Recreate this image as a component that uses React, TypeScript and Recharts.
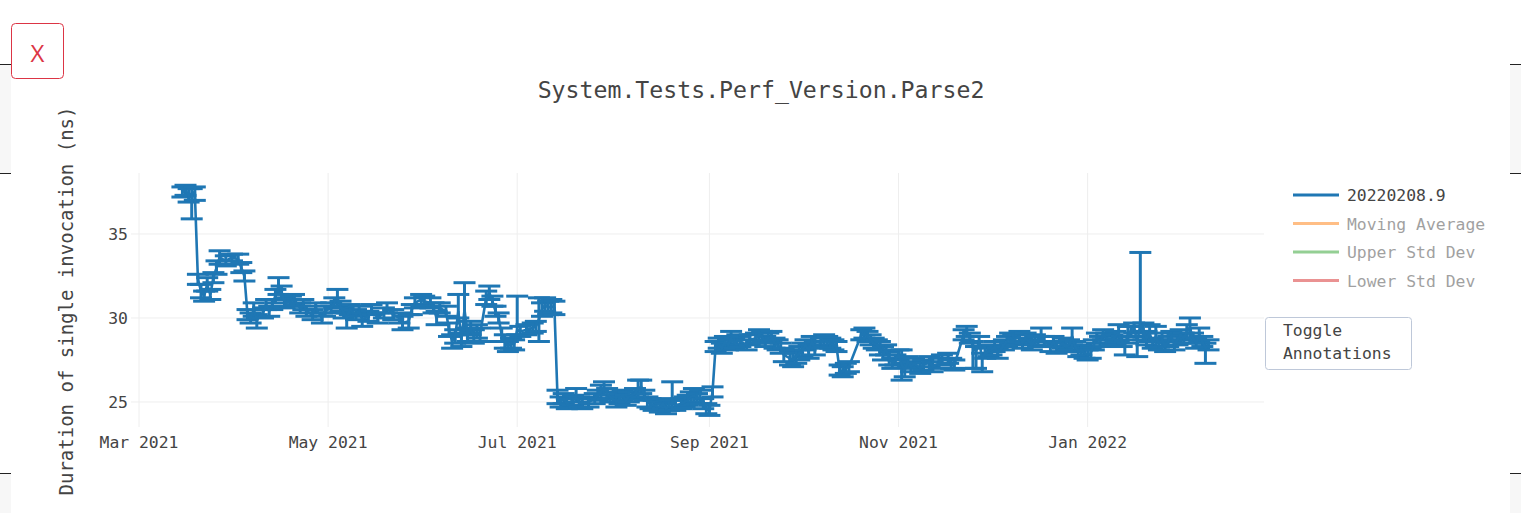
import { LineChart, Line, XAxis, YAxis, ReferenceLine, ErrorBar } from "recharts";

const MONO = "'DejaVu Sans Mono', monospace";
const TEXT = "#444";
const BLUE = "#1f77b4";
const GRID = "#eee";

const chartTitle = "System.Tests.Perf_Version.Parse2";
const yTitle = "Duration of single invocation (ns)";

const dates = [
  "2021-03-15", "2021-03-16", "2021-03-17", "2021-03-18", "2021-03-19", "2021-03-20", "2021-03-21", "2021-03-22", "2021-03-23", "2021-03-24", "2021-03-25", "2021-03-26", "2021-03-27", "2021-03-29", "2021-03-31",
  "2021-04-02", "2021-04-03", "2021-04-04", "2021-04-05", "2021-04-06", "2021-04-07", "2021-04-08", "2021-04-10", "2021-04-11", "2021-04-12", "2021-04-13", "2021-04-14", "2021-04-15", "2021-04-16", "2021-04-17", "2021-04-19", "2021-04-20", "2021-04-22", "2021-04-23", "2021-04-24", "2021-04-26", "2021-04-27", "2021-04-29", "2021-04-30",
  "2021-05-02", "2021-05-03", "2021-05-04", "2021-05-05", "2021-05-06", "2021-05-07", "2021-05-08", "2021-05-10", "2021-05-11", "2021-05-12", "2021-05-14", "2021-05-15", "2021-05-17", "2021-05-19", "2021-05-20", "2021-05-22", "2021-05-24", "2021-05-25", "2021-05-27", "2021-05-28", "2021-05-29", "2021-05-31",
  "2021-06-01", "2021-06-03", "2021-06-04", "2021-06-05", "2021-06-06", "2021-06-08", "2021-06-09", "2021-06-10", "2021-06-11", "2021-06-12", "2021-06-13", "2021-06-14", "2021-06-15", "2021-06-16", "2021-06-17", "2021-06-18", "2021-06-19", "2021-06-21", "2021-06-22", "2021-06-23", "2021-06-24", "2021-06-25", "2021-06-26", "2021-06-27", "2021-06-28", "2021-06-29", "2021-06-30",
  "2021-07-01", "2021-07-02", "2021-07-04", "2021-07-06", "2021-07-07", "2021-07-08", "2021-07-09", "2021-07-10", "2021-07-11", "2021-07-12", "2021-07-13", "2021-07-14", "2021-07-15", "2021-07-16", "2021-07-17", "2021-07-19", "2021-07-20", "2021-07-21", "2021-07-22", "2021-07-24", "2021-07-26", "2021-07-27", "2021-07-28", "2021-07-29", "2021-07-30", "2021-07-31",
  "2021-08-02", "2021-08-03", "2021-08-04", "2021-08-05", "2021-08-06", "2021-08-08", "2021-08-09", "2021-08-10", "2021-08-11", "2021-08-12", "2021-08-13", "2021-08-14", "2021-08-16", "2021-08-17", "2021-08-18", "2021-08-19", "2021-08-20", "2021-08-21", "2021-08-23", "2021-08-24", "2021-08-25", "2021-08-26", "2021-08-27", "2021-08-28", "2021-08-29", "2021-08-30", "2021-08-31",
  "2021-09-01", "2021-09-02", "2021-09-03", "2021-09-04", "2021-09-05", "2021-09-06", "2021-09-07", "2021-09-08", "2021-09-09", "2021-09-10", "2021-09-11", "2021-09-13", "2021-09-14", "2021-09-16", "2021-09-17", "2021-09-18", "2021-09-19", "2021-09-20", "2021-09-21", "2021-09-22", "2021-09-23", "2021-09-24", "2021-09-25", "2021-09-27", "2021-09-28", "2021-09-29", "2021-09-30",
  "2021-10-01", "2021-10-02", "2021-10-03", "2021-10-04", "2021-10-05", "2021-10-07", "2021-10-08", "2021-10-09", "2021-10-10", "2021-10-11", "2021-10-12", "2021-10-13", "2021-10-14", "2021-10-15", "2021-10-16", "2021-10-20", "2021-10-21", "2021-10-22", "2021-10-23", "2021-10-24", "2021-10-25", "2021-10-26", "2021-10-27", "2021-10-28", "2021-10-29", "2021-10-30", "2021-10-31",
  "2021-11-01", "2021-11-02", "2021-11-03", "2021-11-04", "2021-11-05", "2021-11-06", "2021-11-08", "2021-11-09", "2021-11-11", "2021-11-12", "2021-11-14", "2021-11-15", "2021-11-17", "2021-11-18", "2021-11-19", "2021-11-22", "2021-11-23", "2021-11-24", "2021-11-25", "2021-11-26", "2021-11-27", "2021-11-28", "2021-11-29", "2021-11-30",
  "2021-12-01", "2021-12-02", "2021-12-03", "2021-12-05", "2021-12-06", "2021-12-07", "2021-12-08", "2021-12-10", "2021-12-11", "2021-12-12", "2021-12-14", "2021-12-15", "2021-12-16", "2021-12-17", "2021-12-18", "2021-12-20", "2021-12-21", "2021-12-22", "2021-12-24", "2021-12-25", "2021-12-26", "2021-12-27", "2021-12-28", "2021-12-29", "2021-12-30", "2021-12-31",
  "2022-01-01", "2022-01-02", "2022-01-03", "2022-01-04", "2022-01-05", "2022-01-06", "2022-01-07", "2022-01-09", "2022-01-10", "2022-01-11", "2022-01-12", "2022-01-13", "2022-01-14", "2022-01-15", "2022-01-16", "2022-01-17", "2022-01-18", "2022-01-19", "2022-01-20", "2022-01-21", "2022-01-22", "2022-01-23", "2022-01-24", "2022-01-25", "2022-01-26", "2022-01-27", "2022-01-28", "2022-01-29", "2022-01-30", "2022-01-31",
  "2022-02-01", "2022-02-02", "2022-02-03", "2022-02-04", "2022-02-05", "2022-02-06", "2022-02-07", "2022-02-08", "2022-02-09",
];

// ns per invocation
const durations = [
  37.5, 37.6, 37.3, 37.4, 37.5, 32.3, 31.6, 31.3, 32.0, 31.4, 32.4, 33.0, 33.6, 33.4, 33.6,
  33.5, 33.0, 32.5, 30.2, 30.0, 30.5, 29.9, 30.3, 30.8, 30.4, 30.8, 31.3, 31.9, 31.5, 30.9, 31.0, 31.1, 30.6, 30.8, 30.4, 30.2, 30.6, 30.0, 30.4,
  30.6, 30.9, 31.2, 30.7, 30.3, 30.0, 30.5, 30.2, 30.4, 29.9, 30.1, 30.5, 30.0, 30.3, 30.6, 30.2, 30.0, 29.7, 29.8, 30.5, 30.9, 31.1,
  31.0, 30.9, 30.6, 30.0, 30.6, 30.4, 29.3, 28.6, 28.9, 30.4, 28.7, 30.5, 29.0, 29.4, 28.9, 29.2, 29.0, 31.2, 31.5, 31.0, 30.4, 30.0, 29.0, 28.6, 28.3, 28.5, 28.4,
  29.3, 29.2, 29.3, 29.4, 29.5, 29.9, 30.5, 30.8, 30.6, 30.7, 30.6, 25.3, 25.0, 25.2, 24.9, 25.1, 25.3, 25.0, 24.9, 25.0, 25.2, 25.4, 25.6, 25.8, 25.5, 25.3,
  25.0, 25.2, 25.4, 25.1, 25.3, 25.5, 25.8, 25.9, 25.4, 25.0, 24.9, 24.8, 24.7, 24.9, 24.6, 24.8, 25.0, 24.8, 24.9, 25.0, 25.1, 25.3, 25.4, 25.2, 25.3, 24.9, 24.6,
  24.5, 25.6, 28.3, 28.5, 28.2, 28.6, 28.4, 28.8, 28.5, 28.7, 28.6, 28.4, 28.7, 28.8, 29.0, 28.9, 28.6, 28.8, 28.9, 28.5, 28.4, 28.2, 27.8, 27.6, 27.5, 27.7, 27.9,
  28.1, 28.4, 28.0, 28.6, 28.2, 28.5, 28.7, 28.6, 28.5, 28.4, 28.3, 26.9, 26.8, 27.0, 27.1, 29.0, 29.1, 28.9, 28.7, 28.5, 28.4, 28.2, 27.9, 28.1, 27.6, 27.3, 27.5,
  27.8, 27.2, 26.9, 27.4, 27.1, 27.3, 27.0, 27.2, 27.4, 27.1, 27.3, 27.5, 27.6, 27.3, 27.2, 29.0, 29.2, 28.8, 28.3, 28.0, 28.6, 27.6, 27.9, 28.0,
  28.1, 28.3, 27.9, 28.4, 28.6, 28.8, 28.7, 28.9, 28.5, 28.8, 28.4, 28.7, 28.6, 29.0, 28.6, 28.3, 28.6, 28.2, 28.5, 28.3, 28.4, 28.9, 28.3, 28.0, 28.1, 27.9,
  27.8, 27.9, 28.4, 28.8, 28.6, 29.0, 28.8, 28.7, 28.9, 29.1, 28.6, 28.4, 29.0, 29.2, 29.4, 28.6, 29.6, 29.2, 28.8, 29.1, 28.5, 28.9, 28.4, 28.7, 28.3, 28.6, 28.9, 28.4, 28.7, 29.0,
  28.8, 29.2, 29.4, 28.8, 28.5, 29.0, 28.6, 28.2, 28.4,
];

// symmetric error, or [below, above]
const errors: (number | number[])[] = [
  0.3, 0.3, 0.4, [1.5, 0.3], [0.5, 0.3], 0.3, 0.4, 0.3, 0.4, 0.3, 0.3, 0.4, 0.4, 0.3, 0.2,
  0.3, 0.3, 0.3, 0.3, 0.3, 0.4, [0.5, 0.3], 0.3, 0.3, 0.3, 0.3, 0.4, 0.5, 0.4, 0.3, 0.3, 0.3, 0.3, 0.3, 0.3, 0.3, 0.3, 0.3, 0.3,
  0.3, 0.3, 0.5, 0.3, 0.3, [0.6, 0.3], 0.3, 0.3, 0.3, 0.4, 0.3, 0.3, 0.3, 0.3, 0.3, 0.3, 0.3, 0.4, 0.4, 0.3, 0.3, 0.3,
  0.3, 0.3, 0.3, 0.4, 0.3, 0.3, 0.4, 0.4, 0.4, [0.4, 1.0], 0.4, [1.5, 1.6], 0.4, 0.4, 0.4, 0.4, 0.4, 0.4, 0.4, 0.3, 0.3, 0.3, 0.4, 0.4, 0.3, 0.3, 0.3,
  [0.3, 2.0], 0.3, 0.3, 0.3, 0.3, 1.3, 0.4, 0.4, 0.4, 0.4, 0.4, 0.4, 0.3, 0.3, 0.3, 0.3, [0.3, 0.5], 0.3, 0.3, 0.3, 0.3, 0.3, 0.4, 0.4, 0.3, 0.3,
  0.3, 0.3, 0.3, 0.3, 0.3, 0.3, 0.5, 0.4, 0.3, 0.3, 0.3, 0.3, 0.3, 0.3, 0.3, 0.3, [0.3, 1.2], 0.3, 0.3, 0.3, 0.3, 0.3, 0.4, 0.3, 0.4, 0.3, 0.3,
  0.3, 0.3, 0.3, 0.3, 0.3, 0.3, 0.3, 0.4, 0.3, 0.3, 0.3, 0.3, 0.3, 0.3, 0.3, 0.3, 0.3, 0.3, 0.3, 0.3, 0.3, 0.3, 0.4, 0.4, 0.4, 0.4, 0.4,
  0.4, 0.3, 0.4, 0.3, 0.4, 0.3, 0.3, 0.3, 0.3, 0.3, 0.3, 0.3, 0.3, 0.3, 0.3, 0.3, 0.3, 0.3, 0.3, 0.3, 0.3, 0.4, 0.4, 0.3, 0.4, 0.3, 0.3,
  0.3, 0.9, 0.4, 0.3, 0.3, 0.3, 0.3, 0.3, 0.3, 0.3, 0.3, 0.3, 0.3, 0.3, 0.3, 0.3, 0.3, 0.3, [1.3, 0.3], [1.0, 0.3], 0.3, [0.8, 0.3], 0.3, 0.3,
  0.3, 0.3, 0.3, 0.3, 0.3, 0.3, 0.3, 0.3, 0.3, 0.3, 0.3, 0.3, 0.3, 0.4, 0.3, 0.3, 0.3, 0.3, 0.3, 0.3, 0.3, 0.5, 0.3, 0.3, 0.3, 0.3,
  0.3, 0.3, 0.3, 0.3, 0.3, 0.3, 0.3, 0.3, 0.3, 0.5, 0.3, [0.6, 0.3], 0.5, 0.3, 0.3, [0.9, 0.3], [0.4, 4.3], 0.5, 0.4, 0.5, 0.3, 0.6, 0.3, 0.4, 0.3, 0.3, 0.3, 0.3, 0.3, 0.3,
  0.3, 0.4, 0.6, 0.3, 0.3, 0.4, 0.3, [0.9, 0.3], 0.3,
];

const tickDates = ["2021-03-01", "2021-05-01", "2021-07-01", "2021-09-01", "2021-11-01", "2022-01-01"];
const tickLabels = ["Mar 2021", "May 2021", "Jul 2021", "Sep 2021", "Nov 2021", "Jan 2022"];
const yTicks = [25, 30, 35];

const legendNames = ["20220208.9", "Moving Average", "Upper Std Dev", "Lower Std Dev"];
const legendColors = ["#1f77b4", "#ff7f0e", "#2ca02c", "#d62728"];
const legendShown = [true, false, false, false];

const xRange = ["2021-02-26T10:00:00Z", "2022-02-26T21:30:00Z"];
const yRange = [23.51, 38.63];

const tickTimes = tickDates.map((d) => Date.parse(d));

const data = dates.map((d, i) => ({
  t: Date.parse(d),
  value: durations[i],
  err: errors[i],
}));

function SideStrip({ left, top, height }: { left: number; top: number; height: number }) {
  return (
    <div
      style={{
        position: "absolute",
        left,
        top,
        width: 11,
        height,
        background: "#f7f7f7",
        borderTop: "1px solid #222",
        borderBottom: height < 60 ? "none" : "1px solid #222",
        boxSizing: "border-box",
      }}
    />
  );
}

export default function App() {
  return (
    <div
      style={{
        position: "absolute",
        left: 0,
        top: 0,
        width: 1521,
        height: 513,
        background: "#fff",
        overflow: "hidden",
      }}
    >
      <SideStrip left={0} top={64} height={110} />
      <SideStrip left={1510} top={64} height={110} />
      <SideStrip left={0} top={473} height={40} />
      <SideStrip left={1510} top={473} height={40} />

      <div style={{ position: "absolute", left: 0, top: 0 }}>
        <LineChart
          width={1521}
          height={513}
          data={data}
          margin={{ top: 173, right: 257, bottom: 56, left: 71 }}
        >
          <XAxis
            dataKey="t"
            type="number"
            scale="time"
            domain={xRange.map((d) => Date.parse(d))}
            allowDataOverflow
            ticks={tickTimes}
            tickFormatter={(v: number) => tickLabels[tickTimes.indexOf(v)] ?? ""}
            axisLine={false}
            tickLine={false}
            tickSize={0}
            tickMargin={9}
            height={30}
            tick={{ fill: TEXT, fontSize: 16.4, fontFamily: MONO }}
          />
          <YAxis
            type="number"
            domain={yRange}
            allowDataOverflow
            ticks={yTicks}
            axisLine={false}
            tickLine={false}
            tickSize={0}
            tickMargin={3}
            width={60}
            tick={{ fill: TEXT, fontSize: 16.4, fontFamily: MONO }}
          />
          {/* grid lines only at the tick values, no frame around the plot */}
          {yTicks.map((v) => (
            <ReferenceLine key={`h${v}`} y={v} stroke={GRID} strokeWidth={1} />
          ))}
          {tickTimes.map((v) => (
            <ReferenceLine key={`v${v}`} x={v} stroke={GRID} strokeWidth={1} />
          ))}
          <Line
            type="linear"
            dataKey="value"
            stroke={BLUE}
            strokeWidth={2.6}
            dot={false}
            activeDot={false}
            isAnimationActive={false}
          >
            <ErrorBar
              dataKey="err"
              direction="y"
              width={11}
              strokeWidth={3}
              stroke={BLUE}
              isAnimationActive={false}
            />
          </Line>
        </LineChart>
      </div>

      <svg
        width={1521}
        height={513}
        style={{ position: "absolute", left: 0, top: 0, pointerEvents: "none" }}
      >
        <rect x={11.5} y={23.5} width={52} height={55} rx={4} fill="#fff" stroke="#dc3545" />
        <text x={37.5} y={62} textAnchor="middle" fontSize={24} fontFamily="'Open Sans', sans-serif" fill="#dc3545">
          X
        </text>

        <text x={761} y={98} textAnchor="middle" fontSize={23.2} fontFamily={MONO} fill={TEXT}>
          {chartTitle}
        </text>

        <text
          x={73}
          y={301}
          textAnchor="middle"
          fontSize={19}
          fontFamily={MONO}
          fill={TEXT}
          transform="rotate(-90, 73, 301)"
        >
          {yTitle}
        </text>

        {legendNames.map((name, i) => {
          const y = 195 + i * 28.5;
          return (
            <g key={name} opacity={legendShown[i] ? 1 : 0.5}>
              <line x1={1293} x2={1339} y1={y} y2={y} stroke={legendColors[i]} strokeWidth={3} />
              <text x={1347} y={y + 6} fontSize={16.4} fontFamily={MONO} fill={TEXT}>
                {name}
              </text>
            </g>
          );
        })}

        <rect x={1265.5} y={317.5} width={146} height={52} rx={3} fill="#fff" stroke="#bec8d9" />
        <text x={1283} y={336} fontSize={16.4} fontFamily={MONO} fill={TEXT}>
          Toggle
        </text>
        <text x={1283} y={359} fontSize={16.4} fontFamily={MONO} fill={TEXT}>
          Annotations
        </text>
      </svg>
    </div>
  );
}
